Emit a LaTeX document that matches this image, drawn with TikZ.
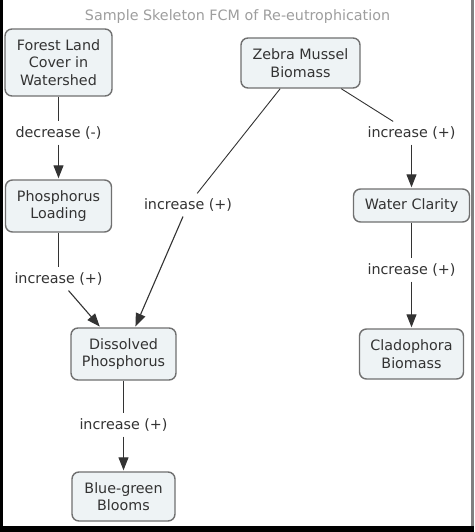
\documentclass[tikz,border=0pt]{standalone}
\usepackage{fontspec}
\setmainfont{DejaVu Sans}
\usetikzlibrary{arrows.meta}
\definecolor{boxfill}{HTML}{EEF3F5}
\definecolor{boxline}{HTML}{707070}
\definecolor{inktext}{HTML}{333333}
\definecolor{titlegray}{HTML}{9E9E9E}
\tikzset{
	concept/.style={draw=boxline, fill=boxfill, rounded corners=7, line width=1.4, align=center, text=inktext, font=\fontsize{14.3}{17.5}\selectfont, inner sep=0},
	linkword/.style={text=inktext, font=\fontsize{14.3}{17.5}\selectfont, inner xsep=3, inner ysep=5},
	link/.style={draw=inktext, line width=0.9},
	linkarrow/.style={link, line width=1.1, -{Triangle[length=13,width=10]}, shorten >=1},
}

\begin{document}
\begin{tikzpicture}[x=1pt, y=-1pt]
			%%%%% START %%%%%
			
			\fill[black] (0, 0) rectangle (474, 532);
			\fill[white] (3, 0) rectangle (471, 526);
			\fill[gray] (471, 0) rectangle (474, 526);
			\useasboundingbox (0, 0) rectangle (474, 532);
			
			\node[text=titlegray, font=\fontsize{14.3}{16}\selectfont] (title) at (237.5, 17) {Sample Skeleton FCM of Re-eutrophication};
			
			\node[concept, minimum width=107, minimum height=67] (forest) at (58.5, 62.5) {Forest Land\\Cover in\\Watershed};
			\node[concept, minimum width=119, minimum height=50] (zebra) at (300.5, 63) {Zebra Mussel\\Biomass};
			\node[concept, minimum width=106, minimum height=52] (ploading) at (58.5, 206) {Phosphorus\\Loading};
			\node[concept, minimum width=116, minimum height=33] (clarity) at (411.5, 205.5) {Water Clarity};
			\node[concept, minimum width=105, minimum height=52] (dissolved) at (123.5, 354) {Dissolved\\Phosphorus};
			\node[concept, minimum width=104, minimum height=50] (cladophora) at (411.5, 354) {Cladophora\\Biomass};
			\node[concept, minimum width=103, minimum height=49] (bloom) at (123.5, 496.5) {Blue-green\\Blooms};
			
			\node[linkword] (dec) at (58.5, 133) {decrease (-)};
			\node[linkword] (incP) at (58.5, 279) {increase (+)};
			\node[linkword] (incZ) at (188, 205) {increase (+)};
			\node[linkword] (incW) at (411.5, 133) {increase (+)};
			\node[linkword] (incC) at (411.5, 270) {increase (+)};
			\node[linkword] (incD) at (123.5, 425) {increase (+)};
			
			\draw[link] (forest) -- (dec);
			\draw[linkarrow] (dec) -- (ploading);
			\draw[link] (ploading) -- (incP);
			\draw[linkarrow] (incP) -- (dissolved);
			
			\draw[link] (zebra) -- (incZ);
			\draw[linkarrow] (incZ) -- (dissolved);
			\draw[link] (zebra) -- (incW);
			\draw[linkarrow] (incW) -- (clarity);
			\draw[link] (clarity) -- (incC);
			\draw[linkarrow] (incC) -- (cladophora);
			
			\draw[link] (dissolved) -- (incD);
			\draw[linkarrow] (incD) -- (bloom);
			
			%%%%% END %%%%%
\end{tikzpicture}
\end{document}
